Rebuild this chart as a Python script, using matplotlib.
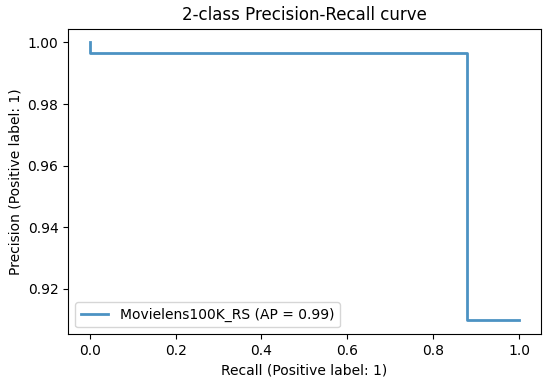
import matplotlib
matplotlib.use("Agg")
import matplotlib.pyplot as plt

# PR curve points (sklearn order: recall decreasing)
recall = [1.0, 0.878, 0.0]
precision = [0.9098, 0.9966, 1.0]
label = "Movielens100K_RS (AP = 0.99)"

fig = plt.figure(figsize=(5.5, 3.86), dpi=100)
ax = fig.add_axes([0.124, 0.134, 0.859, 0.792])
ax.plot(recall, precision, drawstyle="steps-post", color="#1f77b4", alpha=0.8,
        linewidth=2, label=label)

ax.set_xlabel("Recall (Positive label: 1)")
ax.set_ylabel("Precision (Positive label: 1)")
ax.set_title("2-class Precision-Recall curve", fontsize=12)
ax.legend(loc="lower left")

fig.savefig("out.png", dpi=100, facecolor="white")
